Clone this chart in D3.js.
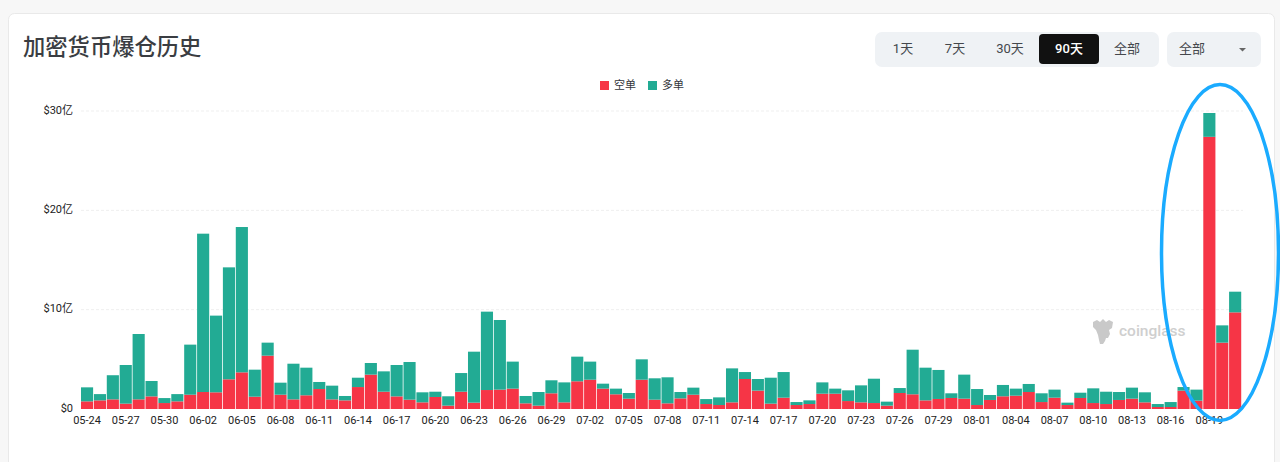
<!DOCTYPE html>
<html><head><meta charset="utf-8">
<script src="https://cdn.jsdelivr.net/npm/d3@7/dist/d3.min.js"></script>
<style>
html,body{margin:0;padding:0;background:#f7f7f7;overflow:hidden}
svg{display:block}
text{font-family:Roboto,"Noto Sans CJK SC",sans-serif}
</style></head><body><svg id="c" width="1280" height="462"></svg>
<script>
const startDate = "2024-05-24";
const shortValues = [.77,.87,.97,.54,.97,1.27,.6,.77,1.44,1.71,1.68,2.99,3.69,1.24,5.37,1.44,.97,1.38,2.01,.97,.87,2.21,3.46,1.74,1.27,.94,.67,1.21,.34,1.74,.64,1.91,1.95,2.05,.57,.34,1.58,.67,2.79,2.95,2.05,1.48,1.04,2.95,.94,.57,1.07,1.44,.5,.4,.67,3.02,1.85,.54,1.14,.4,.5,1.54,1.54,.8,.67,.6,.34,1.61,1.48,.87,1.01,1.11,1.04,.4,.91,1.28,1.34,1.71,.7,1.14,.4,1.11,.6,.5,.91,1.04,.67,.2,.2,1.85,.84,27.4,6.68,9.73];
const totalValues = [2.18,1.5,3.4,4.43,7.55,2.82,1.1,1.5,6.48,17.65,9.4,14.26,18.32,3.96,6.68,2.65,4.56,4.16,2.72,2.35,1.31,3.15,4.63,3.79,4.43,4.73,1.68,1.74,1.28,3.62,5.77,9.8,8.96,4.77,1.31,1.71,2.89,2.68,5.27,4.77,2.55,2.05,1.61,5.0,3.09,3.19,1.71,2.15,1.0,1.17,4.09,3.72,3.02,3.15,3.72,.7,.87,2.68,2.05,1.88,2.38,3.05,.74,2.11,5.97,4.16,3.93,1.58,3.46,2.01,1.41,2.42,2.05,2.52,1.58,1.95,.64,1.64,2.08,1.74,1.71,2.15,1.68,.5,.7,2.21,1.95,29.8,8.42,11.81];
const longValues = totalValues.map((t,i)=>+(t-shortValues[i]).toFixed(2));
const yTicks = [0,10,20,30];
const seriesNames = ["空单","多单"];
const seriesColors = ["#f63546","#22ab94"];
const ranges = ["1天","7天","30天","90天","全部"];
const titleText = "加密货币爆仓历史";

const fmt = d3.utcFormat("%m-%d");
const dates = shortValues.map((_,i)=>d3.utcDay.offset(new Date(startDate+"T00:00:00Z"),i));
const svg = d3.select("#c");

// card
svg.append("rect").attr("x",8.5).attr("y",13.5).attr("width",1266).attr("height",470).attr("rx",6)
  .attr("fill","#fff").attr("stroke","#e9e9e9");
svg.append("text").attr("x",23).attr("y",55).attr("font-size",22.3).attr("font-weight",500)
  .attr("fill","#3a3d42").style("font-family",'"Noto Sans CJK SC"').text(titleText);

// range buttons
svg.append("rect").attr("x",875).attr("y",32).attr("width",284).attr("height",35).attr("rx",7).attr("fill","#eff2f5");
svg.append("rect").attr("x",1039).attr("y",34).attr("width",60).attr("height",30).attr("rx",4).attr("fill","#111");
const rangeX = d3.scaleOrdinal().domain(ranges).range([903,955,1010,1069,1127]);
svg.selectAll(".rg").data(ranges).join("text").attr("class","rg")
  .attr("x",d=>rangeX(d)).attr("y",53).attr("text-anchor","middle").attr("font-size",13)
  .attr("font-weight",d=>d==="90天"?500:400)
  .attr("fill",d=>d==="90天"?"#fff":"#44474c").text(d=>d);
svg.append("rect").attr("x",1167).attr("y",32).attr("width",94).attr("height",35).attr("rx",7).attr("fill","#eff2f5");
svg.append("text").attr("x",1179).attr("y",53).attr("font-size",13).attr("fill","#44474c").text("全部");
svg.append("path").attr("d","M1239 48h7l-3.5 3.5z").attr("fill","#666");

// scales
const x = d3.scaleBand().domain(dates.map(fmt)).range([80.6,1241.6]).paddingInner(0.06).paddingOuter(0.03);
const y = d3.scaleLinear().domain([0,30]).range([409,111]);

// grid
svg.selectAll(".gl").data(yTicks.slice(1)).join("line").attr("class","gl")
  .attr("x1",81).attr("x2",1243).attr("y1",d=>y(d)).attr("y2",d=>y(d))
  .attr("stroke","#efefef").attr("stroke-dasharray","3 2");

// axes
const yAxis = d3.axisLeft(y).tickValues(yTicks).tickSize(0).tickPadding(8)
  .tickFormat(d=>d===0?"$0":`$${d}亿`);
const gy = svg.append("g").attr("transform","translate(81,0)").call(yAxis);
gy.select(".domain").remove();
gy.selectAll("text").attr("font-size",11).attr("fill","#222").style("font-family",'Roboto,"Noto Sans CJK SC"').attr("dy","0.2em");

const xAxis = d3.axisBottom(x).tickValues(dates.filter((_,i)=>i%3===0).map(fmt)).tickSize(0).tickPadding(7);
const gx = svg.append("g").attr("transform","translate(0,409)").call(xAxis);
gx.select(".domain").remove();
gx.selectAll("text").attr("font-size",11).attr("fill","#222").style("font-family",'Roboto');

// watermark
svg.append("path").attr("fill","#c9c9c9")
  .attr("d","M1093 322l4-2 3 2 3-3 3 3 3-2 4 2-1 6-3 2 1 4-2 4-2 0-1 3-2 3-3 0-1-4-1-5-2-5-3-3z");
svg.append("text").attr("x",1119).attr("y",336).attr("font-size",15.5).attr("font-weight",500)
  .attr("fill","#cfcfcf").text("coinglass");

// bars
const rows = dates.map((d,i)=>({k:fmt(d),s:shortValues[i],l:longValues[i]}));
const bars = svg.append("g").selectAll("g").data(rows).join("g");
bars.append("rect").attr("x",d=>x(d.k)).attr("width",x.bandwidth())
  .attr("y",d=>y(d.s)).attr("height",d=>y(0)-y(d.s)).attr("fill",seriesColors[0]);
bars.append("rect").attr("x",d=>x(d.k)).attr("width",x.bandwidth())
  .attr("y",d=>y(d.s+d.l)).attr("height",d=>y(d.s)-y(d.s+d.l)).attr("fill",seriesColors[1]);

// legend
const lx = d3.scaleOrdinal().domain(seriesNames).range([600,648]);
const lg = svg.selectAll(".lg").data(seriesNames).join("g").attr("class","lg")
  .attr("transform",d=>`translate(${lx(d)},80)`);
lg.append("rect").attr("width",9).attr("height",9).attr("y",1).attr("fill",(d,i)=>seriesColors[i]);
lg.append("text").attr("x",14).attr("y",9).attr("font-size",11).attr("fill","#33363b").text(d=>d);

// annotation ellipse
svg.append("ellipse").attr("cx",1220).attr("cy",252.5).attr("rx",58.5).attr("ry",168)
  .attr("fill","none").attr("stroke","#1aabff").attr("stroke-width",3.5);
</script></body></html>
